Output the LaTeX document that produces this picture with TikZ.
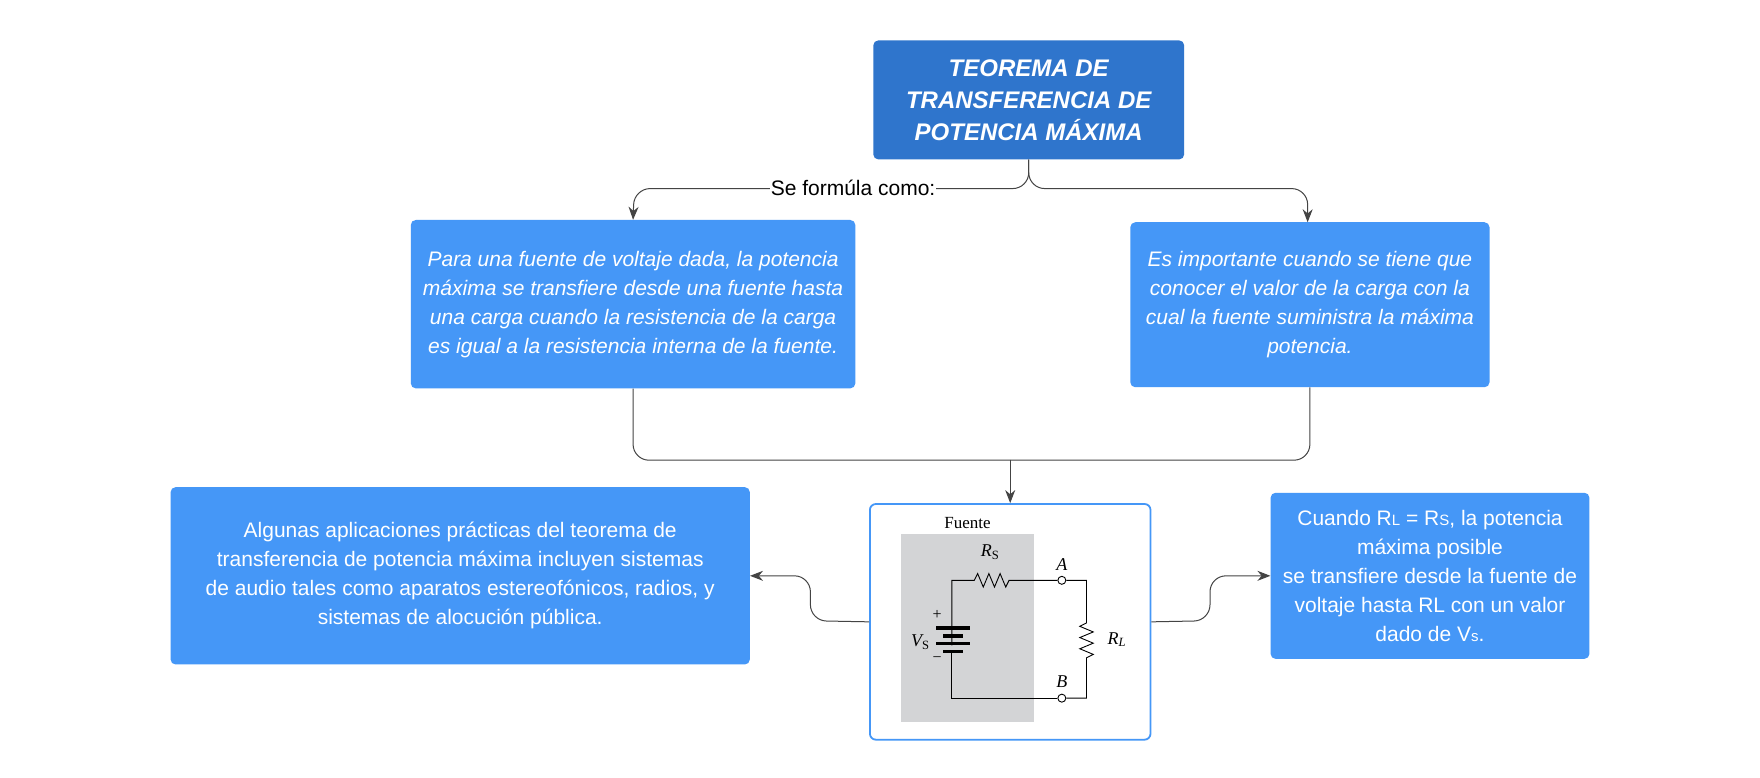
\documentclass[tikz,border=0pt]{standalone}
\usepackage{fontspec}
\setmainfont{Liberation Sans}
\newfontfamily\serif{Liberation Serif}
\usetikzlibrary{arrows.meta}
\definecolor{dblue}{HTML}{2F75CC}
\definecolor{lblue}{HTML}{4597F7}
\definecolor{cgray}{HTML}{D3D4D6}
\definecolor{lnk}{HTML}{444444}
\begin{document}
\begin{tikzpicture}[x=1.1224pt,y=-1.1224pt,
 box/.style={fill=lblue,rounded corners=5pt,text=white,align=center,font=\fontsize{21}{29}\selectfont,inner sep=0pt},
 conn/.style={draw=lnk,line width=1pt,rounded corners=16pt},
 arr/.style={conn,-{Stealth[length=13pt,width=10pt]}},
 wire/.style={line width=0.9pt},
 clab/.style={font=\serif\itshape\fontsize{18}{18}\selectfont}]
\useasboundingbox (0,0) rectangle (1568,692.25);
\fill[white] (0,0) rectangle (1568,692.25);
\node[box,fill=dblue,minimum width=310.9pt,minimum height=119pt,font=\fontsize{24}{32}\selectfont\bfseries\itshape] (t) at (916.5,89) {TEOREMA DE\\TRANSFERENCIA DE\\POTENCIA MÁXIMA};
\node[box,minimum width=444.5pt,minimum height=168.4pt,font=\fontsize{21}{29}\selectfont\itshape] (l) at (564,271) {Para una fuente de voltaje dada, la potencia\\máxima se transfiere desde una fuente hasta\\una carga cuando la resistencia de la carga\\es igual a la resistencia interna de la fuente.};
\node[box,minimum width=359.2pt,minimum height=165pt,font=\fontsize{21}{29}\selectfont\itshape] (r) at (1167,271.5) {Es importante cuando se tiene que\\conocer el valor de la carga con la\\cual la fuente suministra la máxima\\potencia.};
\node[box,minimum width=579.2pt,minimum height=177.3pt] (bl) at (410,513) {Algunas aplicaciones prácticas del teorema de\\transferencia de potencia máxima incluyen sistemas\\de audio tales como aparatos estereofónicos, radios, y\\sistemas de alocución pública.};
\node[box,minimum width=318.8pt,minimum height=166.1pt] (br) at (1274,513) {Cuando R{\fontsize{15}{15}\selectfont L} = R{\fontsize{15}{15}\selectfont S}, la potencia\\máxima posible\\se transfiere desde la fuente de\\voltaje hasta RL con un valor\\dado de V{\fontsize{15}{15}\selectfont s}.};
\node[draw=lblue,line width=1.8pt,fill=white,rounded corners=6pt,minimum width=280.6pt,minimum height=235.7pt,inner sep=0pt] (c) at (900,554) {};
% connectors
\draw[arr] (t.south) |- (565,168) -- (l.north);
\draw[arr] (t.south) |- (1165,168) -- (1165,198);
\node[fill=white,inner sep=1pt,font=\fontsize{21}{24}\selectfont] (lab) at (760,167) {Se formúla como:};
\draw[conn] (l.south) |- (900,410);
\draw[conn] (r.south) |- (900,410);
\draw[arr] (900,410) -- (c.north);
\draw[arr] (c.west) -- (722,553) |- (bl.east);
\draw[arr] (c.east) -- (1078,553) |- (br.west);
% circuit
\fill[cgray] (803,476) rectangle (921,643);
\node[font=\serif\fontsize{17}{17}\selectfont] (f) at (862,466) {Fuente};
\draw[wire] (848,575) -- (848,517) -- (868,517) -- ++(3,-6) -- ++(5,12) -- ++(5,-12) -- ++(5,12) -- ++(5,-12) -- ++(5,12) -- ++(3,-6) -- (942,517);
\draw[wire] (950,517) -- (968,517) -- (968,555) -- ++(-6,3) -- ++(12,5) -- ++(-12,5) -- ++(12,5) -- ++(-12,5) -- ++(12,5) -- ++(-6,3) -- (968,622) -- (950,622);
\draw[wire] (942,622) -- (848,622) -- (848,580);
\draw[wire,fill=white] (946,517) circle (4pt) (946,622) circle (4pt);
\fill (834,558) rectangle (864,561);
\fill (840,565) rectangle (858,568);
\fill (834,572) rectangle (864,575);
\fill (840,579) rectangle (858,582);
\node[clab] at (882,492) {R\textsubscript{\upshape S}};
\node[clab] at (946,503) {A};
\node[clab] at (946,607) {B};
\node[clab] at (820,572) {V\textsubscript{\upshape S}};
\node[clab] at (995,570) {R\textsubscript{L}};
\node[font=\serif\fontsize{16}{16}\selectfont] at (835,548) {+};
\node[font=\serif\fontsize{16}{16}\selectfont] at (835,588) {−};
\end{tikzpicture}
\end{document}
